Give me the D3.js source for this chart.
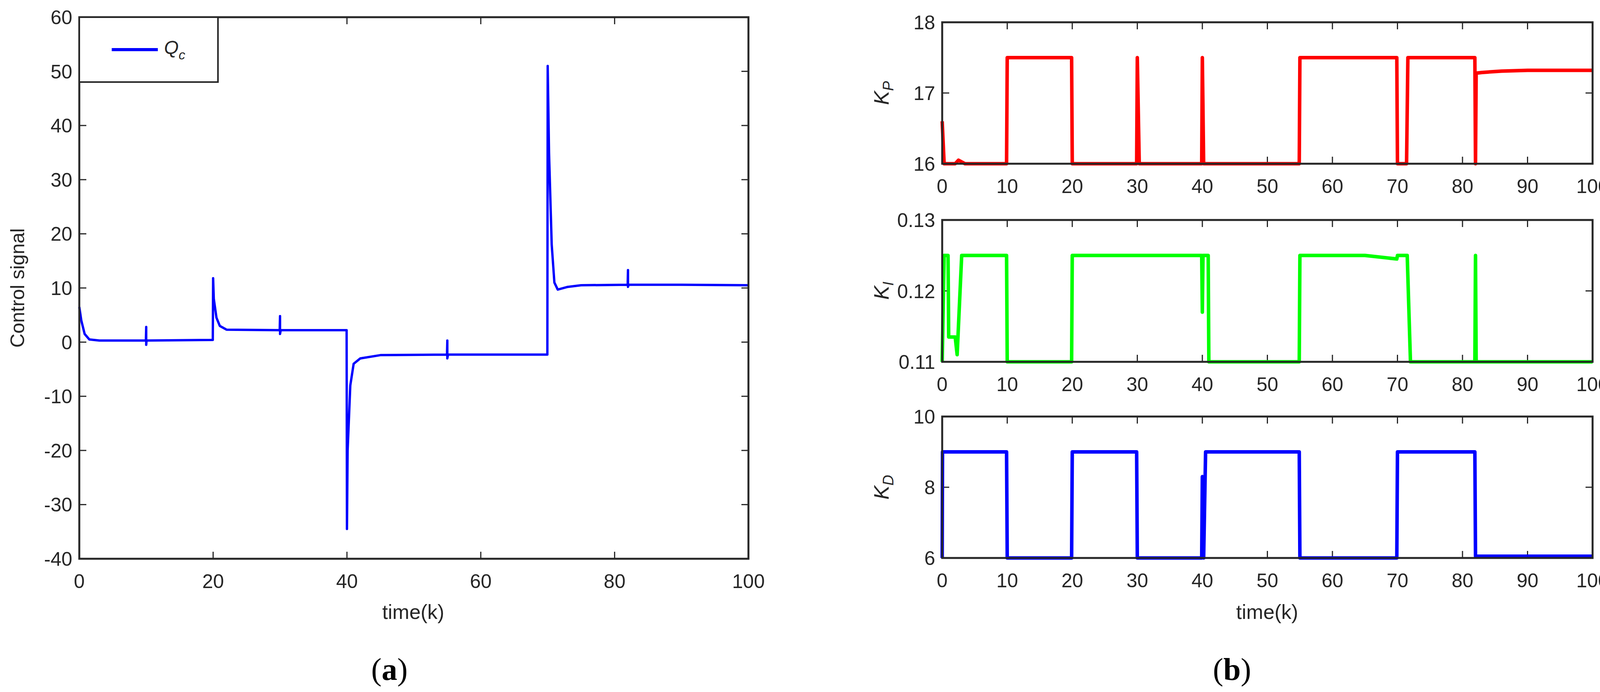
<!DOCTYPE html><html><head><meta charset="utf-8"><script src="https://cdn.jsdelivr.net/npm/d3@7"></script>
<style>html,body{margin:0;padding:0;background:#fff;overflow:hidden}svg{display:block}text{font-family:"Liberation Sans",Arial,sans-serif;fill:#262626}</style></head><body>
<svg id="c" width="4152" height="1771" viewBox="0 0 4152 1771"></svg>
<script>
const qcT=[0,0.3,0.8,1.5,3,9.95,10,10,10.05,10.1,19.95,20,20.1,20.5,21,22,29.95,30,30,30.1,39.95,40,40.1,40.5,41,42,45,54.95,55,55,55.1,69.95,70,70.2,70.6,71,71.5,73,75,81.95,82,82,82.1,90,100];
const qcV=[6.5,4,1.5,0.5,0.3,0.3,2.8,-0.5,0.3,0.3,0.4,11.8,8,4.5,3,2.3,2.2,4.8,1.5,2.2,2.2,-34.5,-20,-8,-4,-3,-2.4,-2.3,0.3,-3,-2.3,-2.3,51,35,18,11,9.7,10.2,10.5,10.6,13.3,10.2,10.6,10.6,10.5];
const kpT=[0,0.3,2,2.5,3.5,9.9,10,19.9,20,29.9,30,30.3,39.9,40,40.2,54.9,55,69.9,70,71.4,71.6,81.9,82,82.1,83,86,90,100];
const kpV=[16.6,16,16,16.05,16,16,17.5,17.5,16,16,17.5,16,16,17.5,16,16,17.5,17.5,16,16,17.5,17.5,16,17.28,17.29,17.31,17.32,17.32];
const kiT=[0,0.3,0.9,1,2,2.3,3,9.9,10,19.9,20,39.9,40,40.1,40.9,41,54.9,55,65,69.9,70,71.5,72,81.9,82,82.1,100];
const kiV=[0.11,0.125,0.125,0.1135,0.1135,0.111,0.125,0.125,0.11,0.11,0.125,0.125,0.117,0.125,0.125,0.11,0.11,0.125,0.125,0.1245,0.125,0.125,0.11,0.11,0.125,0.11,0.11];
const kdT=[0,0.05,9.9,10,19.9,20,29.9,30,39.9,40,40.2,40.5,54.9,55,69.9,70,81.9,82,100];
const kdV=[6,9,9,6,6,9,9,6,6,8.3,6,9,9,6,6,9,9,6.05,6.05];
const xTicksA=[0,20,40,60,80,100], yTicksA=[-40,-30,-20,-10,0,10,20,30,40,50,60];
const xTicksB=[0,10,20,30,40,50,60,70,80,90,100];
const svg=d3.select("#c"), ax="#262626";
function panel(x0,x1,y0,y1,xd,yd,xt,yt,tx,ty,color,lw){
  const x=d3.scaleLinear().domain(xd).range([x0,x1]), y=d3.scaleLinear().domain(yd).range([y1,y0]);
  const g=svg.append("g");
  const tl=18;
  xt.forEach(v=>{g.append("line").attr("x1",x(v)).attr("x2",x(v)).attr("y1",y1).attr("y2",y1-tl).attr("stroke",ax).attr("stroke-width",3);
    g.append("line").attr("x1",x(v)).attr("x2",x(v)).attr("y1",y0).attr("y2",y0+tl).attr("stroke",ax).attr("stroke-width",3);
    g.append("text").attr("x",x(v)).attr("y",y1+75).attr("text-anchor","middle").attr("font-size",50).text(v);});
  yt.forEach(v=>{g.append("line").attr("x1",x0).attr("x2",x0+tl).attr("y1",y(v)).attr("y2",y(v)).attr("stroke",ax).attr("stroke-width",3);
    g.append("line").attr("x1",x1).attr("x2",x1-tl).attr("y1",y(v)).attr("y2",y(v)).attr("stroke",ax).attr("stroke-width",3);
    g.append("text").attr("x",x0-18).attr("y",y(v)+18).attr("text-anchor","end").attr("font-size",50).text(v);});
  g.append("path").datum(tx.map((t,i)=>[t,ty[i]])).attr("fill","none").attr("stroke",color).attr("stroke-width",lw).attr("stroke-linejoin","round")
   .attr("d",d3.line().x(d=>x(d[0])).y(d=>y(d[1])));
  g.append("rect").attr("x",x0).attr("y",y0).attr("width",x1-x0).attr("height",y1-y0).attr("fill","none").attr("stroke",ax).attr("stroke-width",5);
}
panel(203,1916,44,1430,[0,100],[-40,60],xTicksA,yTicksA,qcT,qcV,"#0000ff",6);
svg.append("rect").attr("x",203).attr("y",44).attr("width",355).attr("height",166).attr("fill","#fff").attr("stroke",ax).attr("stroke-width",4);
svg.append("line").attr("x1",286).attr("x2",404).attr("y1",127).attr("y2",127).attr("stroke","#0000ff").attr("stroke-width",8);
svg.append("text").attr("x",420).attr("y",138).attr("font-size",48).attr("font-style","italic").html('Q<tspan font-size="34" dy="14">c</tspan>');
svg.append("text").attr("transform","translate(62,737) rotate(-90)").attr("text-anchor","middle").attr("font-size",50).text("Control signal");
svg.append("text").attr("x",1058).attr("y",1584).attr("text-anchor","middle").attr("font-size",52).text("time(k)");
svg.append("text").attr("x",997).attr("y",1740).attr("text-anchor","middle").attr("font-size",80).attr("style","font-family:'Liberation Serif','DejaVu Serif',serif;fill:#000").html('(<tspan font-weight="bold">a</tspan>)');
panel(2412,4077,57,419,[0,100],[16,18],xTicksB,[16,17,18],kpT,kpV,"#ff0000",9);
panel(2412,4077,563,926,[0,100],[0.11,0.13],xTicksB,[0.11,0.12,0.13],kiT,kiV,"#00ff00",9);
panel(2412,4077,1066,1428,[0,100],[6,10],xTicksB,[6,8,10],kdT,kdV,"#0000ff",9);
[["P",238],["I",744],["D",1247]].forEach(([s,yc])=>svg.append("text").attr("transform",`translate(2275,${yc}) rotate(-90)`).attr("text-anchor","middle").attr("font-size",54).attr("font-style","italic").html(`K<tspan font-size="38" dy="12">${s}</tspan>`));
svg.append("text").attr("x",3244).attr("y",1584).attr("text-anchor","middle").attr("font-size",52).text("time(k)");
svg.append("text").attr("x",3154).attr("y",1740).attr("text-anchor","middle").attr("font-size",80).attr("style","font-family:'Liberation Serif','DejaVu Serif',serif;fill:#000").html('(<tspan font-weight="bold">b</tspan>)');
</script></body></html>
